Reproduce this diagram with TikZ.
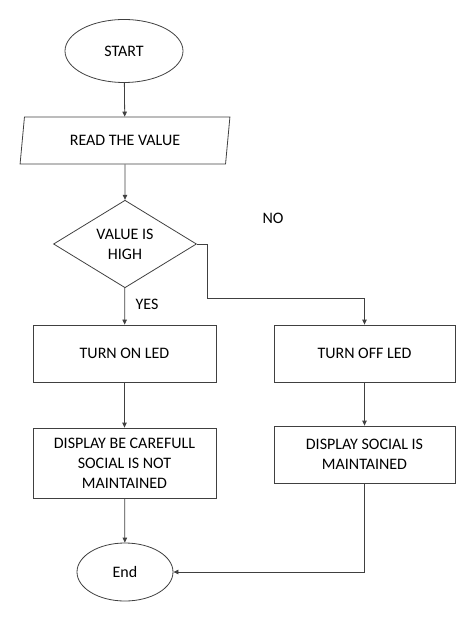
\documentclass[tikz,border=0pt]{standalone}
\usepackage{fontspec}
\setmainfont{Carlito}
\usetikzlibrary{arrows.meta,positioning,shapes.geometric}
\definecolor{lineGray}{RGB}{64,64,64}
\tikzset{
  flowln/.style={-{Triangle[length=5pt,width=4.5pt]}, line width=0.8pt, lineGray},
  shapeln/.style={draw=lineGray, line width=0.8pt, text=black, align=center,
    font=\fontsize{16}{20}\selectfont, inner sep=0pt},
  termbox/.style={shapeln, ellipse},
  iobox/.style={shapeln, trapezium, trapezium left angle=77, trapezium right angle=103,
    trapezium stretches=true},
  testbox/.style={shapeln, diamond},
  actbox/.style={shapeln, rectangle},
  edgelbl/.style={font=\fontsize{16}{20}\selectfont},
}
\begin{document}
\begin{tikzpicture}[x=1pt, y=-1pt]
    \useasboundingbox (0,0) rectangle (474,620);
    % main column
    \node[termbox, minimum width=118pt, minimum height=63pt] (start) at (124,51) {START};
    \node[iobox, minimum width=210pt, minimum height=47pt] (read) at (125,140.5) {READ THE VALUE};
    \node[testbox, minimum width=143pt, minimum height=67pt] (decide) at (125,244) {VALUE IS\\HIGH};
    \node[actbox, minimum width=183pt, minimum height=57pt] (turnon) at (124.5,353.5) {TURN ON LED};
    \node[actbox, minimum width=183pt, minimum height=70pt] (warn) at (124.5,463)
      {DISPLAY BE CAREFULL\\SOCIAL IS NOT\\MAINTAINED};
    \node[termbox, minimum width=96pt, minimum height=58pt] (stop) at (125,572) {End};
    % right column
    \node[actbox, minimum width=181pt, minimum height=57pt] (turnoff) at (364.5,353.5) {TURN OFF LED};
    \node[actbox, minimum width=181pt, minimum height=57pt] (okmsg) at (364.5,454.5)
      {DISPLAY SOCIAL IS\\MAINTAINED};
    % labels
    \node[edgelbl] (nolbl) at (273,218) {NO};
    \node[edgelbl] (yeslbl) at (147,304) {YES};
    \coordinate (nojog) at (207,298);
    % connectors
    \draw[flowln] (start) -- (read);
    \draw[flowln] (read) -- (decide);
    \draw[flowln] (decide) -- (turnon);
    \draw[flowln] (decide.east) -| (nojog) -| (turnoff.north);
    \draw[flowln] (turnon) -- (warn);
    \draw[flowln] (turnoff) -- (okmsg);
    \draw[flowln] (warn) -- (stop);
    \draw[flowln] (okmsg.south) |- (stop.east);
\end{tikzpicture}
\end{document}
